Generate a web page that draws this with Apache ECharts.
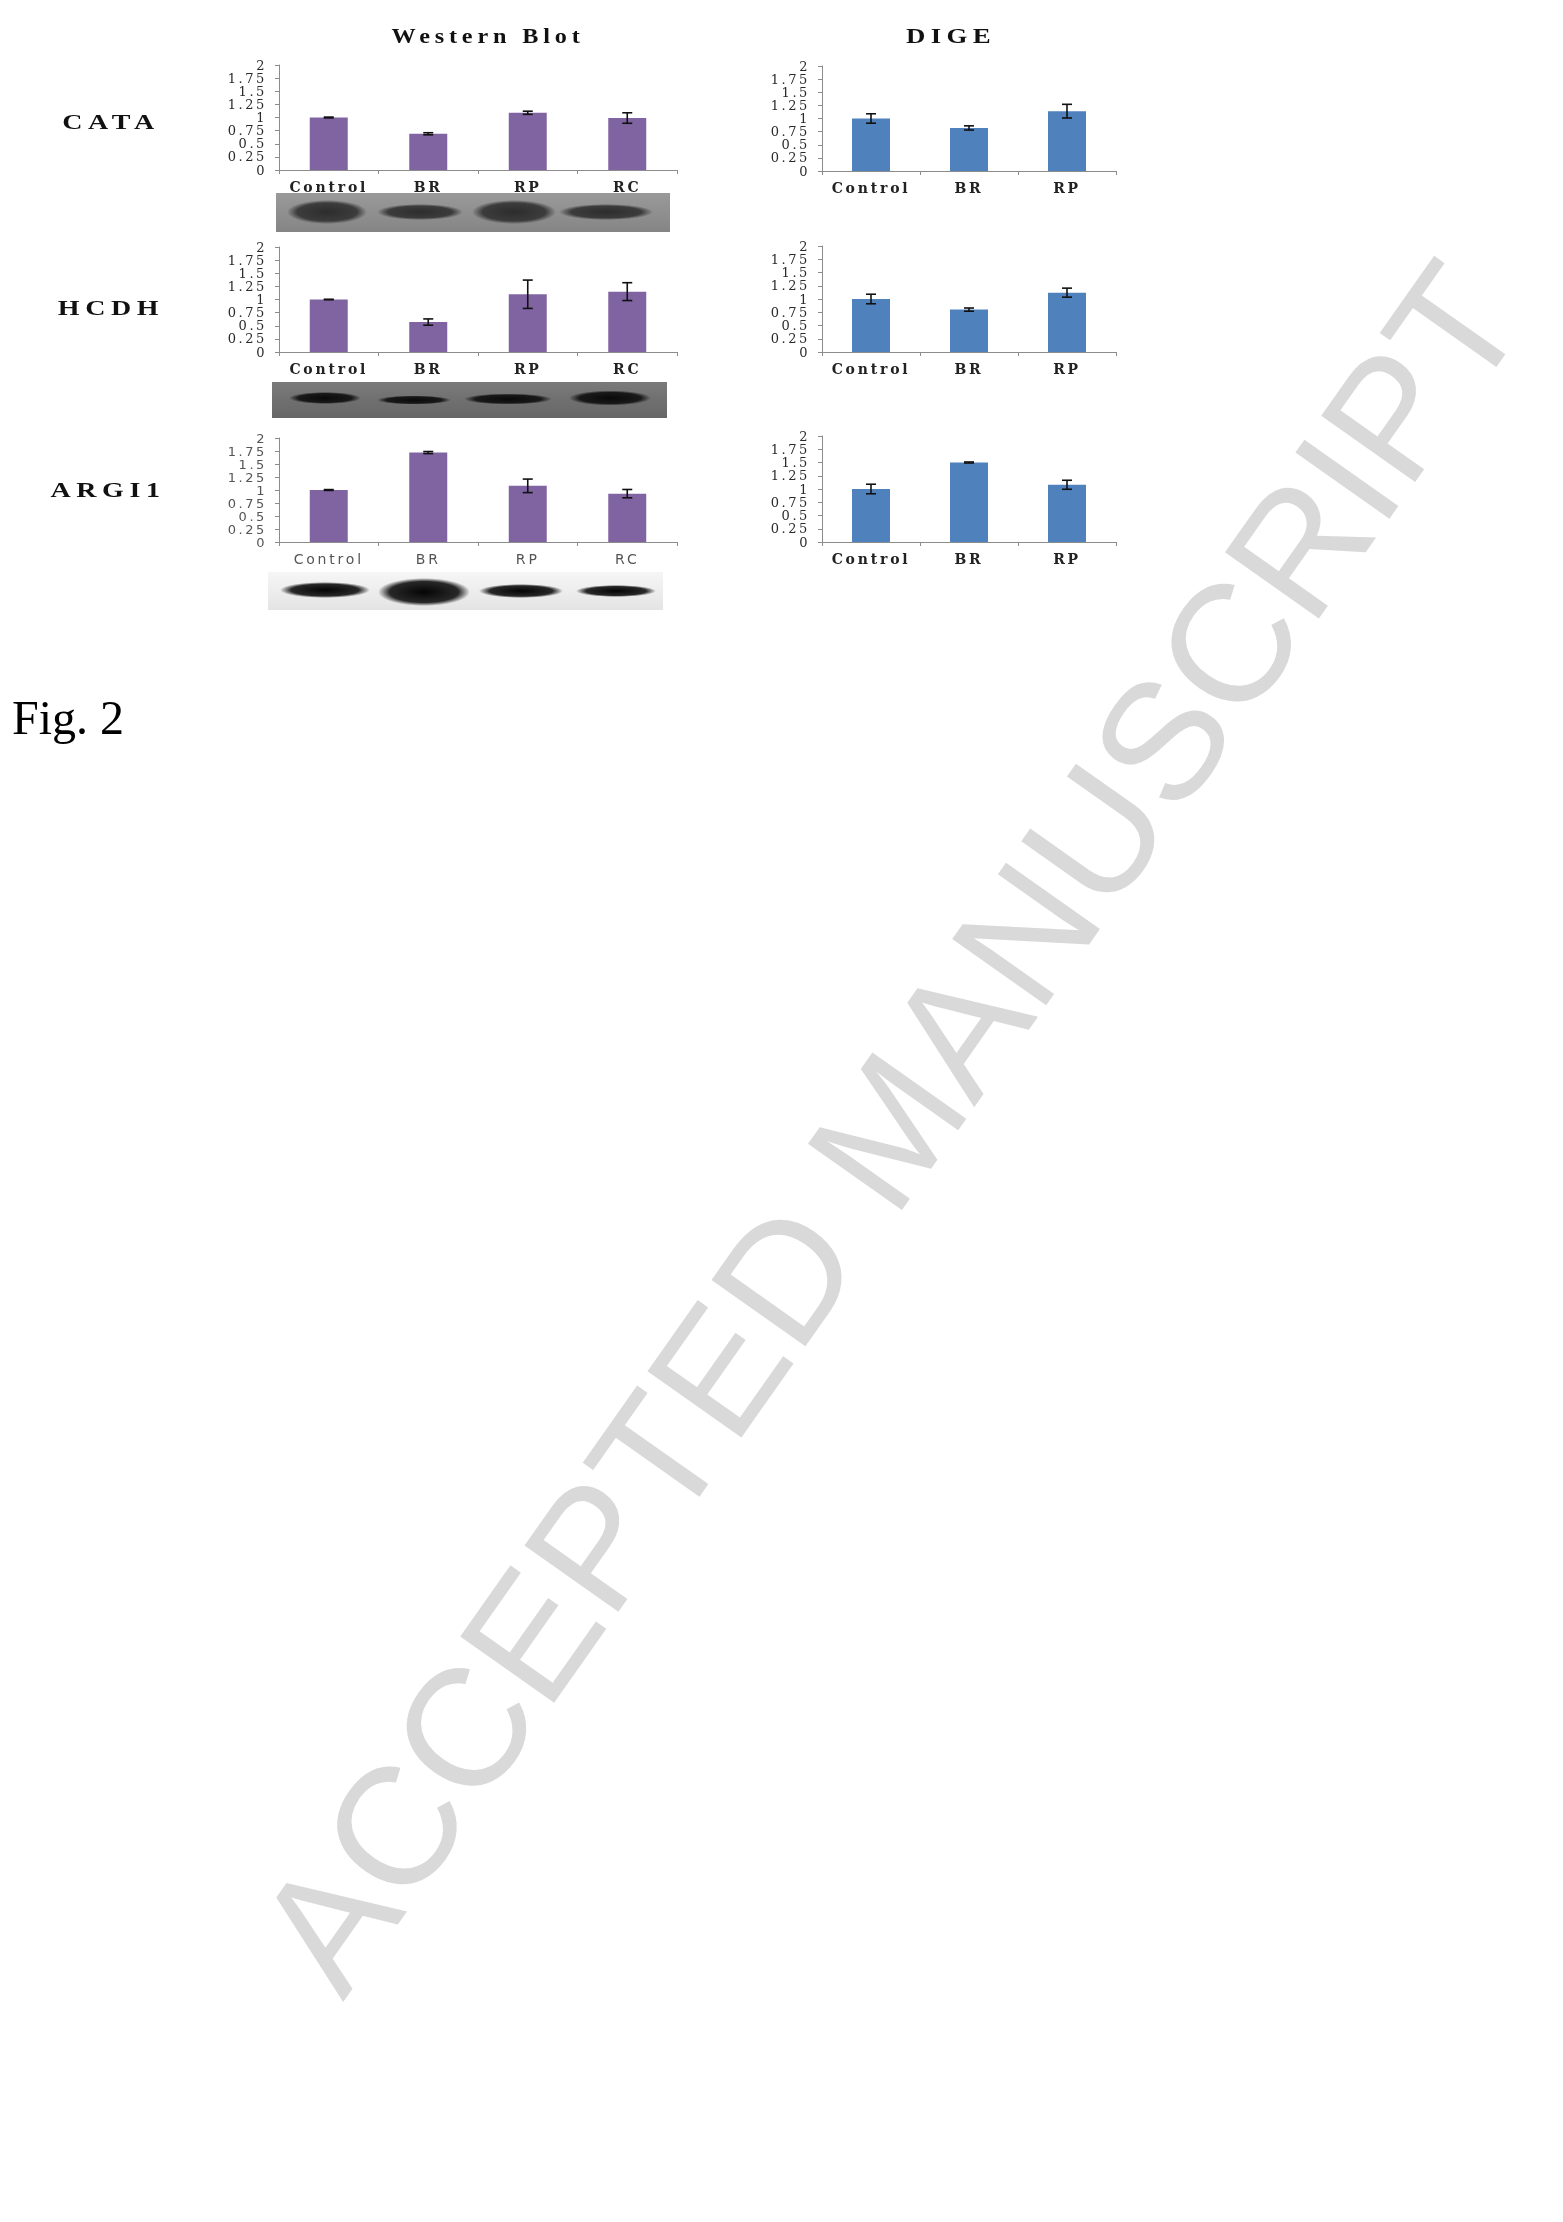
<!DOCTYPE html>
<html>
<head>
<meta charset="utf-8">
<script src="https://cdn.jsdelivr.net/npm/echarts@6/dist/echarts.min.js"></script>
<style>
  html, body { margin: 0; padding: 0; background: #ffffff; }
  #wm { position: absolute; left: 0; top: 0; width: 1563px; height: 2222px; }
  #panel { position: absolute; left: 0; top: 0; width: 1200px; height: 660px; }
  #panel svg text { letter-spacing: 0.2em; }
</style>
</head>
<body>
<div id="wm"></div>
<div id="panel"></div>
<script>
// ---------------- data ----------------
const wbCategories = ['Control', 'BR', 'RP', 'RC'];
const digeCategories = ['Control', 'BR', 'RP'];
const rowLabels = ['CATA', 'HCDH', 'ARGI1'];
const columnTitles = ['Western Blot', 'DIGE'];
const yTickLabels = ['0', '0.25', '0.5', '0.75', '1', '1.25', '1.5', '1.75', '2'];

const cataWB = [1.00, 0.69, 1.09, 0.99];
const cataWBErr = [0.008, 0.02, 0.03, 0.10];
const hcdhWB = [1.00, 0.57, 1.10, 1.15];
const hcdhWBErr = [0.004, 0.06, 0.27, 0.17];
const argiWB = [1.00, 1.72, 1.08, 0.93];
const argiWBErr = [0.008, 0.02, 0.13, 0.08];

const cataDIGE = [1.00, 0.82, 1.14];
const cataDIGEErr = [0.09, 0.04, 0.13];
const hcdhDIGE = [1.00, 0.80, 1.12];
const hcdhDIGEErr = [0.09, 0.03, 0.085];
const argiDIGE = [1.00, 1.50, 1.08];
const argiDIGEErr = [0.09, 0.01, 0.085];

const figLabel = 'Fig. 2';
const watermarkText = 'ACCEPTED MANUSCRIPT';

// ---------------- layout / styles ----------------
const yMin = 0, yMax = 2, yStep = 0.25;
const purple = '#8064a2';
const blue = '#4f81bd';
const axisGray = '#8c8c8c';

const serifLabel = { fontFamily: 'DejaVu Serif', fontSize: 13, color: '#2b2b2b' };
const serifCat = { fontFamily: 'DejaVu Serif', fontSize: 14, fontWeight: 'bold', color: '#222222' };
const sansLabel = { fontFamily: 'DejaVu Sans', fontSize: 13, color: '#555555' };
const sansCat = { fontFamily: 'DejaVu Sans', fontSize: 14, color: '#555555' };

const panels = [
  { grid: { left: 279, top: 65, width: 398, height: 105 }, cats: wbCategories, vals: cataWB, errs: cataWBErr, color: purple, tick: serifLabel, cat: serifCat },
  { grid: { left: 279, top: 247, width: 398, height: 105 }, cats: wbCategories, vals: hcdhWB, errs: hcdhWBErr, color: purple, tick: serifLabel, cat: serifCat },
  { grid: { left: 279, top: 438, width: 398, height: 104 }, cats: wbCategories, vals: argiWB, errs: argiWBErr, color: purple, tick: sansLabel, cat: sansCat },
  { grid: { left: 822, top: 66, width: 294, height: 105 }, cats: digeCategories, vals: cataDIGE, errs: cataDIGEErr, color: blue, tick: serifLabel, cat: serifCat },
  { grid: { left: 822, top: 246, width: 294, height: 106 }, cats: digeCategories, vals: hcdhDIGE, errs: hcdhDIGEErr, color: blue, tick: serifLabel, cat: serifCat },
  { grid: { left: 822, top: 436, width: 294, height: 106 }, cats: digeCategories, vals: argiDIGE, errs: argiDIGEErr, color: blue, tick: serifLabel, cat: serifCat }
];

// decorative western-blot strips (image imitation)
const blotStrips = [
  { x: 276, y: 193, w: 394, h: 39, bgTop: '#9a9a9a', bgBottom: '#858585', band: '45,45,45',
    bands: [[327, 212, 40, 12], [420, 212, 43, 8], [514, 212, 42, 12], [606, 212, 47, 8]] },
  { x: 272, y: 382, w: 395, h: 36, bgTop: '#7a7a7a', bgBottom: '#666666', band: '10,10,10',
    bands: [[325, 398, 36, 6], [414, 400, 37, 4.5], [508, 399, 44, 5.5], [610, 398, 41, 7.5]] },
  { x: 268, y: 572, w: 395, h: 38, bgTop: '#f6f6f6', bgBottom: '#e4e4e4', band: '5,5,5',
    bands: [[325, 590, 45, 8], [424, 592, 46, 14], [521, 591, 42, 7], [616, 591, 40, 6]] }
];

// ---------------- panel chart ----------------
function errRender(params, api) {
  const i = api.value(0), v = api.value(1), e = api.value(2);
  const hi = api.coord([i, v + e]);
  const lo = api.coord([i, v - e]);
  const w = 5;
  const st = { stroke: '#111', lineWidth: 1.6 };
  return {
    type: 'group',
    children: [
      { type: 'line', shape: { x1: hi[0], y1: hi[1], x2: lo[0], y2: lo[1] }, style: st },
      { type: 'line', shape: { x1: hi[0] - w, y1: hi[1], x2: hi[0] + w, y2: hi[1] }, style: st },
      { type: 'line', shape: { x1: lo[0] - w, y1: lo[1], x2: lo[0] + w, y2: lo[1] }, style: st }
    ]
  };
}

const grids = [], xAxes = [], yAxes = [], series = [];
panels.forEach((p, k) => {
  grids.push(Object.assign({ containLabel: false, outerBoundsMode: 'none' }, p.grid));
  xAxes.push({
    type: 'category', gridIndex: k, data: p.cats,
    axisLine: { show: true, lineStyle: { color: axisGray, width: 1 } },
    axisTick: { show: true, alignWithLabel: false, length: 4, lineStyle: { color: axisGray } },
    axisLabel: Object.assign({ margin: 10, interval: 0, hideOverlap: false }, p.cat),
    splitLine: { show: false }
  });
  yAxes.push({
    type: 'value', gridIndex: k, min: yMin, max: yMax, interval: yStep,
    axisLine: { show: true, lineStyle: { color: axisGray, width: 1 } },
    axisTick: { show: true, length: 4, lineStyle: { color: axisGray } },
    axisLabel: Object.assign({
      margin: 12, interval: 0, showMinLabel: true, showMaxLabel: true, hideOverlap: false, lineHeight: 11,
      formatter: (v) => yTickLabels[Math.round((v - yMin) / yStep)]
    }, p.tick),
    splitLine: { show: false }
  });
  series.push({
    type: 'bar', xAxisIndex: k, yAxisIndex: k, data: p.vals, barWidth: 38,
    itemStyle: { color: p.color }, silent: true, animation: false
  });
  series.push({
    type: 'custom', xAxisIndex: k, yAxisIndex: k, renderItem: errRender,
    encode: { x: 0, y: 1 }, z: 10, silent: true, animation: false,
    data: p.vals.map((v, i) => [i, v, p.errs[i]])
  });
});

const panelGraphics = [];
blotStrips.forEach((s) => {
  panelGraphics.push({
    type: 'rect', shape: { x: s.x, y: s.y, width: s.w, height: s.h }, silent: true,
    style: { fill: { type: 'linear', x: 0, y: 0, x2: 0, y2: 1,
      colorStops: [{ offset: 0, color: s.bgTop }, { offset: 1, color: s.bgBottom }] } }
  });
  s.bands.forEach((b) => {
    panelGraphics.push({
      type: 'ellipse', shape: { cx: b[0], cy: b[1], rx: b[2], ry: b[3] }, silent: true,
      style: { fill: { type: 'radial', x: 0.5, y: 0.5, r: 0.5,
        colorStops: [
          { offset: 0, color: 'rgba(' + s.band + ',1)' },
          { offset: 0.75, color: 'rgba(' + s.band + ',0.85)' },
          { offset: 1, color: 'rgba(' + s.band + ',0)' }
        ] } }
    });
  });
});

const titleFont = { fontFamily: 'Liberation Serif', fontWeight: 'bold', fill: '#111' };
panelGraphics.push({ type: 'text', x: 488, y: 35, scaleX: 1.1, silent: true,
  style: Object.assign({ text: columnTitles[0], fontSize: 22, align: 'center', verticalAlign: 'middle' }, titleFont) });
panelGraphics.push({ type: 'text', x: 951, y: 35, scaleX: 1.22, silent: true,
  style: Object.assign({ text: columnTitles[1], fontSize: 22, align: 'center', verticalAlign: 'middle' }, titleFont) });
const rowLabelPos = [[111, 122], [111, 308], [108, 490]];
rowLabels.forEach((t, i) => {
  panelGraphics.push({ type: 'text', x: rowLabelPos[i][0], y: rowLabelPos[i][1], scaleX: 1.4, silent: true,
    style: Object.assign({ text: t, fontSize: 20, align: 'center', verticalAlign: 'middle' }, titleFont) });
});

const panelChart = echarts.init(document.getElementById('panel'), null, { renderer: 'svg' });
panelChart.setOption({
  animation: false,
  backgroundColor: 'transparent',
  grid: grids, xAxis: xAxes, yAxis: yAxes, series: series,
  graphic: panelGraphics
});

// ---------------- page overlay: figure label + watermark ----------------
const wmChart = echarts.init(document.getElementById('wm'), null, { renderer: 'canvas' });
wmChart.setOption({
  animation: false,
  backgroundColor: '#ffffff',
  graphic: [
    { type: 'text', x: 899, y: 1134, rotation: 54.8 * Math.PI / 180, silent: true,
      style: { text: watermarkText, fontFamily: 'Liberation Sans', fontSize: 167,
        fill: '#d9d9d9', align: 'center', verticalAlign: 'middle' } },
    { type: 'text', x: 12, y: 721, silent: true,
      style: { text: figLabel, fontFamily: 'Liberation Serif', fontSize: 48,
        fill: '#000', align: 'left', verticalAlign: 'middle' } }
  ]
});
</script>
</body>
</html>
